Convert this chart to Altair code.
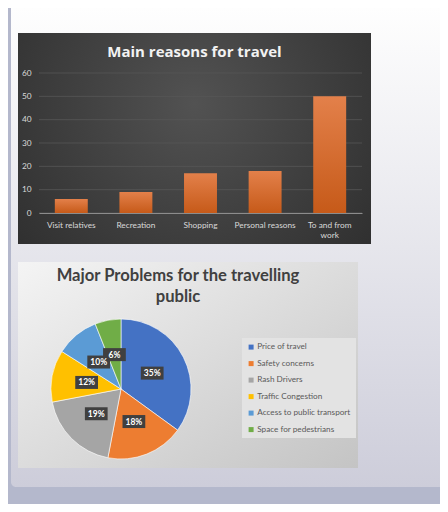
import altair as alt
import pandas as pd

# ---------------- data ----------------
REASONS = ["Visit relatives", "Recreation", "Shopping", "Personal reasons", "To and from work"]
TRAVEL_VALUES = [6, 9, 17, 18, 50]
Y_TICKS = [0, 10, 20, 30, 40, 50, 60]

PROBLEMS = ["Price of travel", "Safety concerns", "Rash Drivers", "Traffic Congestion",
            "Access to public transport", "Space for pedestrians"]
SHARES = [35, 18, 19, 12, 10, 6]
PIE_COLORS = ["#4472C4", "#ED7D31", "#A5A5A5", "#FFC000", "#5B9BD5", "#70AD47"]

FONT = "Lato"

# ---------------- layout constants ----------------
TOP_W, TOP_H = 323, 140
BOT_W, BOT_H = 280, 206
CX, CY, R_OUT, R_LAB = 82, 127, 70, 35

bars_df = pd.DataFrame({"reason": REASONS, "value": TRAVEL_VALUES})
grid_df = pd.DataFrame({"value": Y_TICKS})
pie_df = pd.DataFrame({"problem": PROBLEMS, "share": SHARES, "idx": list(range(len(PROBLEMS)))})
one = alt.Data(values=[{}])

page_grad = alt.LinearGradient(gradient="linear", x1=0, y1=0, x2=0, y2=1, stops=[
    alt.GradientStop(offset=0, color="#fefefe"),
    alt.GradientStop(offset=0.5, color="#e6e6ec"),
    alt.GradientStop(offset=1, color="#cdcdda")])
dark_grad = alt.RadialGradient(gradient="radial", x1=0.5, y1=0.4, r1=0, x2=0.5, y2=0.4, r2=0.75, stops=[
    alt.GradientStop(offset=0, color="#525252"),
    alt.GradientStop(offset=1, color="#2a2a2a")])
bar_grad = alt.LinearGradient(gradient="linear", x1=0, y1=0, x2=0, y2=1, stops=[
    alt.GradientStop(offset=0, color="#e3804a"),
    alt.GradientStop(offset=1, color="#c65a19")])
light_grad = alt.LinearGradient(gradient="linear", x1=0, y1=0, x2=1, y2=1, stops=[
    alt.GradientStop(offset=0, color="#f4f4f4"),
    alt.GradientStop(offset=1, color="#c4c4c4")])

# ---------------- top chart ----------------
page_bg = alt.Chart(one).mark_rect(fill=page_grad, cornerRadiusBottomLeft=5).encode(
    x=alt.value(-28), x2=alt.value(401), y=alt.value(-65), y2=alt.value(414))
dark_bg = alt.Chart(one).mark_rect(fill=dark_grad).encode(
    x=alt.value(-21), x2=alt.value(TOP_W + 9), y=alt.value(-40), y2=alt.value(TOP_H + 31))

y_axis = alt.Axis(values=Y_TICKS, grid=False, domain=False, ticks=False, labelPadding=8,
                  labelColor="#d9d9d9", labelFontSize=8.3, labelFont=FONT, title=None, zindex=1)
y_scale = alt.Scale(domain=[0, 60])

grid = alt.Chart(grid_df).mark_rule(color="#575757", strokeWidth=0.8).encode(
    y=alt.Y("value:Q", scale=y_scale, axis=y_axis),
    x=alt.value(0), x2=alt.value(TOP_W))

bars = alt.Chart(bars_df).mark_bar(fill=bar_grad).encode(
    x=alt.X("reason:N", sort=REASONS,
            scale=alt.Scale(paddingInner=0.49, paddingOuter=0.245),
            axis=alt.Axis(title=None, labelAngle=0, ticks=False, domainColor="#8c8c8c",
                          domainWidth=1, labelPadding=7, labelColor="#d9d9d9", labelFontSize=8.3,
                          labelFont=FONT, labelLineHeight=10, zindex=1,
                          labelExpr="datum.label == 'To and from work' ? ['To and from', 'work'] : datum.label")),
    y=alt.Y("value:Q", scale=y_scale, axis=y_axis))

top = alt.layer(page_bg, dark_bg, grid, bars).properties(
    width=TOP_W, height=TOP_H,
    title=alt.TitleParams("Main reasons for travel", font="Open Sans", fontSize=15, fontWeight="bold",
                          color="#f2f2f2", anchor="middle", frame="group", baseline="middle",
                          offset=-59, dx=-6))

# ---------------- bottom chart ----------------
light_bg = alt.Chart(one).mark_rect(fill=light_grad).encode(
    x=alt.value(-21), x2=alt.value(319), y=alt.value(0), y2=alt.value(BOT_H))

arcs = alt.Chart(pie_df).mark_arc(outerRadius=R_OUT, stroke="#ffffff", strokeWidth=0.6).encode(
    theta=alt.Theta("share:Q", stack=True),
    order=alt.Order("idx:Q"),
    color=alt.Color("problem:N", scale=alt.Scale(domain=PROBLEMS, range=PIE_COLORS),
                    legend=alt.Legend(title=None, orient="none", legendX=203, legendY=76,
                                      symbolType="square", symbolSize=25, symbolStrokeWidth=0,
                                      labelFont=FONT, labelFontSize=8.2, labelColor="#595959",
                                      labelOffset=2, rowPadding=7.5, padding=5,
                                      fillColor="#e3e3e3")),
    x=alt.value(CX), y=alt.value(CY))

lab_base = alt.Chart(pie_df).transform_window(
    cum="sum(share)", sort=[alt.SortField("idx")], frame=[None, 0]
).transform_joinaggregate(total="sum(share)").transform_calculate(
    mid="(datum.cum - datum.share / 2) / datum.total * 2 * PI"
).transform_calculate(
    px=f"{CX} + {R_LAB} * sin(datum.mid)",
    py=f"{CY} - {R_LAB} * cos(datum.mid)",
    lab="datum.share + '%'")

boxes = lab_base.mark_point(shape="M-1.75,-1H1.75V1H-1.75Z", size=169, filled=True,
                            fill="#404040", opacity=1, strokeWidth=0).encode(
    x=alt.X("px:Q", scale=None), y=alt.Y("py:Q", scale=None))
labels = lab_base.mark_text(font=FONT, fontWeight="bold", fontSize=8.5, color="#ffffff").encode(
    x=alt.X("px:Q", scale=None), y=alt.Y("py:Q", scale=None), text="lab:N")

bottom = alt.layer(light_bg, arcs, boxes, labels).properties(
    width=BOT_W, height=BOT_H,
    title=alt.TitleParams(["Major Problems for the travelling", "public"], font=FONT, fontSize=16.6,
                          fontWeight="bold", color="#404040", anchor="middle", frame="group",
                          baseline="top", lineHeight=21, offset=-44, dx=-1))

chart = alt.vconcat(top, bottom, spacing=49, bounds="flush").resolve_legend(
    color="independent"
).properties(
    padding={"left": 3, "top": 0, "right": 0, "bottom": 17},
    background="#b4b8cc"
).configure_view(stroke=None)

chart.save("out.html", embed_options={"renderer": "svg", "actions": False})
